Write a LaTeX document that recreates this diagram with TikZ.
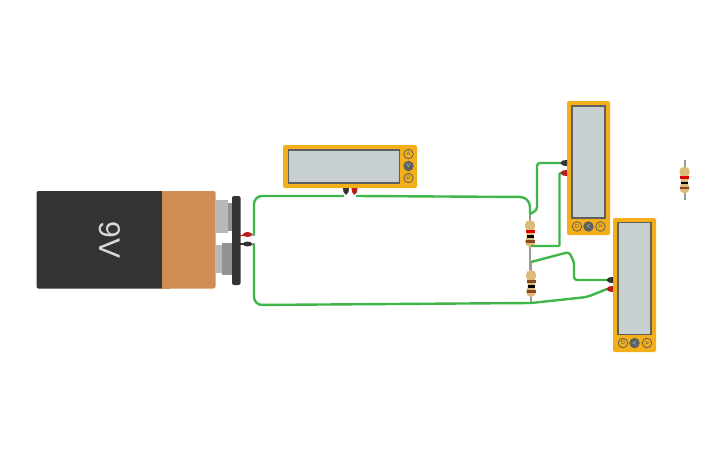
\documentclass[tikz,border=0pt]{standalone}
\usepackage{fontspec}
\usetikzlibrary{calc}
\setmainfont{Liberation Sans}
\definecolor{wiregreen}{HTML}{3FB54A}
\definecolor{meterorange}{HTML}{F4AE1A}
\definecolor{screenc}{HTML}{C7CFD1}
\definecolor{screenb}{HTML}{5C6160}
\definecolor{batblack}{HTML}{333333}
\definecolor{copper}{HTML}{CF8E53}
\definecolor{probered}{HTML}{B5201F}
\definecolor{leadgray}{HTML}{9A9A9A}
\definecolor{restan}{HTML}{DDBB7C}
\definecolor{resbrown}{HTML}{8B4A1C}
\tikzset{
 x=1pt,y=-1pt,
 wirec/.style={draw=wiregreen,line width=2.4pt,line join=round,rounded corners=6pt},
 leadc/.style={draw=leadgray,line width=2pt},
 meterbody/.style={fill=meterorange,rounded corners=2pt},
 meterscreen/.style={fill=screenc,draw=screenb,line width=1.8pt},
 meterbtn/.style={circle,draw=screenb,line width=.8pt,minimum size=9.5pt,inner sep=0pt,font=\fontsize{5.5}{5.5}\selectfont,text=screenb},
 meteron/.style={meterbtn,fill=screenb,text=screenc},
}
\newcommand{\drawres}[5]{% x, ytop, c1, c2, c3
 \begin{scope}[shift={(#1,#2)}]
  \fill[restan] (-5,4) .. controls (-5,1) and (-3,0) .. (0,0) .. controls (3,0) and (5,1) .. (5,4) -- (5,6) .. controls (5,8) and (3.5,8) .. (3.5,10) -- (3.5,17) .. controls (3.5,19) and (5,19) .. (5,21) .. controls (5,24) and (3,26.5) .. (0,26.5) .. controls (-3,26.5) and (-5,24) .. (-5,21) .. controls (-5,19) and (-3.5,19) .. (-3.5,17) -- (-3.5,10) .. controls (-3.5,8) and (-5,8) .. (-5,6) -- cycle;
  \fill[#3] (-4.5,9.2) rectangle (4.5,12);
  \fill[#4] (-3.5,14.5) rectangle (3.5,17);
  \fill[#5] (-4.5,19.5) rectangle (4.5,22);
 \end{scope}
}
\begin{document}
\begin{tikzpicture}
\useasboundingbox (0,0) rectangle (725,453);
% battery
\fill[leadgray!70!white] (216,200) rectangle (228,233);
\fill[gray!85!white] (228,203) rectangle (233,231);
\fill[leadgray!70!white] (216,245) rectangle (222,273);
\fill[gray!85!white] (222,243) rectangle (233,275);
\fill[batblack,rounded corners=2pt] (36.5,191) rectangle (170,288.5);
\fill[copper,rounded corners=2pt] (162,191) -- (215.5,191) -- (215.5,288.5) -- (162,288.5) [sharp corners] -- cycle;
\fill[copper] (162,191) rectangle (170,288.5);
\node[rotate=-90,text=white!85!black,font=\fontsize{30}{30}\selectfont] (nine) at (110,240) {9V};
\fill[batblack,rounded corners=2pt] (232,196) rectangle (240.5,285);
\coordinate (batplus) at (254,234.5);
\coordinate (batminus) at (254,244);
\draw[probered,line width=1.2pt] (240,235.5) -- (batplus);
\draw[batblack,line width=1.2pt] (240,244) -- (batminus);
\fill[probered] (247.5,234.5) ellipse (4.5 and 2.5);
\fill[batblack] (247.5,244) ellipse (4.5 and 2.5);
\fill[leadgray] (252,233) rectangle (255,236);
\fill[leadgray] (252,243) rectangle (255,245.5);
% meters
\fill[meterbody] (283,145) rectangle (417,188);
\node[meterscreen,minimum width=111pt,minimum height=32.5pt,inner sep=0pt] (scr1) at (344,166.5) {};
\node[meterbtn] (a1) at (408.5,154) {A};
\node[meteron] (v1) at (408.5,166) {V};
\node[meterbtn] (r1) at (408.5,178) {Ω};
\fill[meterbody] (567,101) rectangle (610,235);
\node[meterscreen,minimum width=33pt,minimum height=112pt,inner sep=0pt] (scr2) at (588.5,162) {};
\node[meterbtn,rotate=-90] (r2) at (577,226.5) {Ω};
\node[meteron,rotate=-90] (v2) at (588.5,226.5) {V};
\node[meterbtn,rotate=-90] (a2) at (600.5,226.5) {A};
\fill[meterbody] (613,218) rectangle (656,352);
\node[meterscreen,minimum width=33pt,minimum height=112pt,inner sep=0pt] (scr3) at (634.5,278.5) {};
\node[meterbtn,rotate=-90] (r3) at (623,343) {Ω};
\node[meteron,rotate=-90] (v3) at (634.5,343) {V};
\node[meterbtn,rotate=-90] (a3) at (647,343) {A};
% resistor leads
\coordinate (r1t) at (530,214); \coordinate (r1b) at (530,270);
\coordinate (r2t) at (531,262); \coordinate (r2b) at (531,303);
\coordinate (r3t) at (684.5,160); \coordinate (r3b) at (684.5,200);
\draw[leadc] (r1t) -- (r1b);
\draw[leadc] (r2t) -- (r2b);
\draw[leadc] (r3t) -- (r3b);
\drawres{530}{220.5}{red!90!black}{black}{resbrown}
\drawres{531}{270.5}{resbrown}{black}{resbrown}
\drawres{684.5}{167}{red!90!black}{black}{resbrown}
% probe anchors
\coordinate (m1b) at (346,194.5); \coordinate (m1r) at (354.5,194.5);
\coordinate (m2b) at (561,163); \coordinate (m2r) at (561,173);
\coordinate (m3b) at (607,280); \coordinate (m3r) at (607,289);
% wires
\draw[wirec,rounded corners=8pt] (batplus) -- (254,196) -- (344,196);
\draw[wirec,rounded corners=10pt] (356,196) -- (530,197) -- (r1t);
\draw[wirec,rounded corners=8pt] (batminus) -- (254,305) -- (r2b);
\draw[wirec,rounded corners=3pt] (m2b) -- (537,163) -- (537,210) -- (r1t);
\draw[wirec,rounded corners=1pt] (m2r) -- (559.5,173) -- (559.5,246) -- (531,246);
\draw[wirec,rounded corners=3pt] (m3b) -- (574,280) -- (574,262) -- (569,252) -- (r2t);
\draw[wirec,rounded corners=4pt] (m3r) -- (587,297) -- (r2b);
\foreach \pa/\col in {m1b/batblack,m1r/probered}{
 \fill[\col] ($(\pa)+(-3,-6.5)$) -- ++(6,0) -- ++(-.5,4) -- ++(-2,2.5) -- ++(-1,0) -- ++(-2,-2.5) -- cycle;
}
\foreach \pa/\col in {m2b/batblack,m2r/probered,m3b/batblack,m3r/probered}{
 \fill[\col] ($(\pa)+(6,-3)$) -- ++(0,6) -- ++(-4,-.5) -- ++(-2.5,-2) -- ++(0,-1) -- ++(2.5,-2) -- cycle;
}
\end{tikzpicture}
\end{document}
